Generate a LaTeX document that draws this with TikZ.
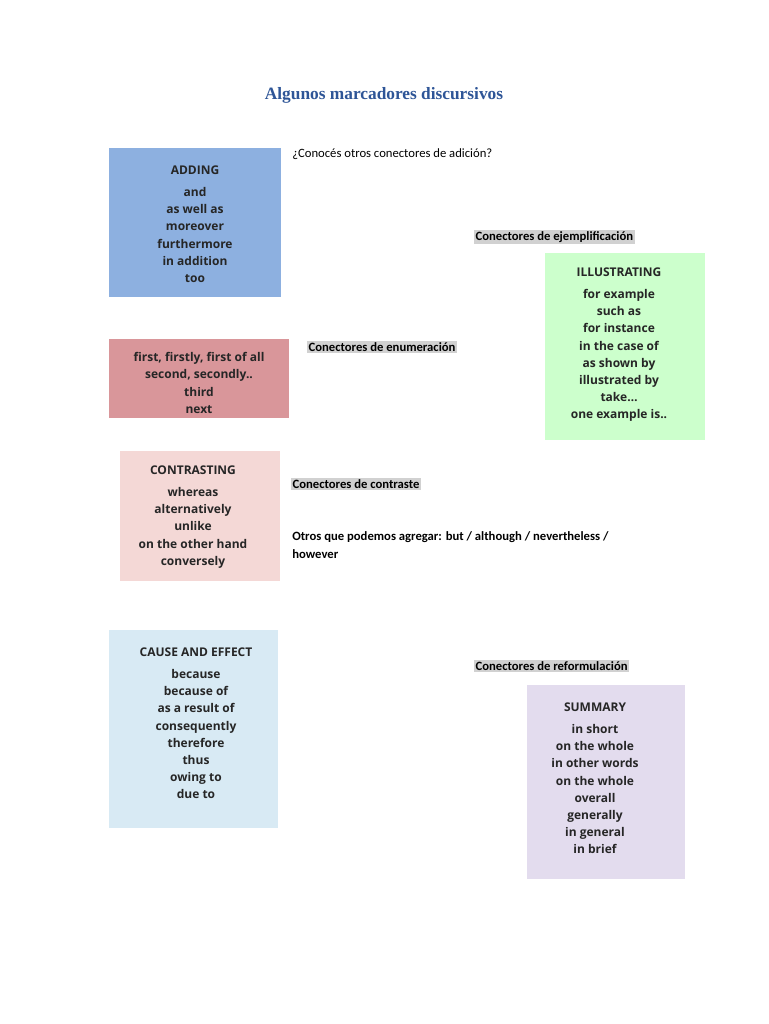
\documentclass[tikz,border=0pt]{standalone}
\usepackage{fontspec}
\setmainfont{Carlito}
\newfontfamily\boxf{Open Sans}
\newfontfamily\titf{Liberation Serif}
\begin{document}
\begin{tikzpicture}[x=0.75pt,y=-0.75pt,
 bx/.style={inner sep=0pt},
 txt/.style={font=\boxf\bfseries\fontsize{9}{12.8}\selectfont,text=black!85,align=center,anchor=north},
 lab/.style={font=\bfseries\fontsize{9.5}{12}\selectfont,fill=black!18,inner xsep=1pt,inner ysep=1pt,anchor=west},
 plain/.style={font=\fontsize{9.5}{13.5}\selectfont,anchor=north west,align=left,inner sep=0pt}]
\useasboundingbox[fill=white] (0,0) rectangle (768,1024);
\definecolor{cadd}{HTML}{8DB0E0}\definecolor{cenu}{HTML}{D9969A}
\definecolor{cill}{HTML}{CCFFCC}\definecolor{ccon}{HTML}{F4D8D6}
\definecolor{ccau}{HTML}{D8EAF4}\definecolor{csum}{HTML}{E3DCEE}
\definecolor{ctit}{HTML}{2E5597}
\node (title) at (384,95) {\titf\bfseries\fontsize{13}{15}\selectfont\color{ctit}Algunos marcadores discursivos};
\fill[cadd] (109,148) rectangle (281,297);
\node[txt] (add) at (195,161) {ADDING\\[4pt] and\\as well as\\moreover\\furthermore\\in addition\\too};
\fill[cenu] (109,339) rectangle (289,418);
\node[txt] (enu) at (199,348) {first, firstly, first of all\\second, secondly..\\third\\next};
\fill[cill] (545,253) rectangle (705,440);
\node[txt] (ill) at (619,263) {ILLUSTRATING\\[4pt] for example\\such as\\for instance\\in the case of\\as shown by\\illustrated by\\take\dots\\one example is..};
\fill[ccon] (120,451) rectangle (280,581);
\node[txt] (con) at (193,461) {CONTRASTING\\[4pt] whereas\\alternatively\\unlike\\on the other hand\\conversely};
\fill[ccau] (109,630) rectangle (278,828);
\node[txt] (cau) at (196,643) {CAUSE AND EFFECT\\[4pt] because\\because of\\as a result of\\consequently\\therefore\\thus\\owing to\\due to};
\fill[csum] (527,685) rectangle (685,879);
\node[txt] (sum) at (595,698) {SUMMARY\\[4pt] in short\\on the whole\\in other words\\on the whole\\overall\\generally\\in general\\in brief};
\node[plain] (q) at (292,148) {¿Conocés otros conectores de adición?};
\node[lab] (l1) at (474,237) {Conectores de ejemplificación};
\node[lab] (l2) at (307,347) {Conectores de enumeración};
\node[lab] (l3) at (291,484) {Conectores de contraste};
\node[plain,font=\bfseries\fontsize{9.5}{13.5}\selectfont] (o) at (292,531) {Otros que podemos agregar: but / although / nevertheless /\\however};
\node[lab] (l4) at (474,666) {Conectores de reformulación};
\end{tikzpicture}
\end{document}
